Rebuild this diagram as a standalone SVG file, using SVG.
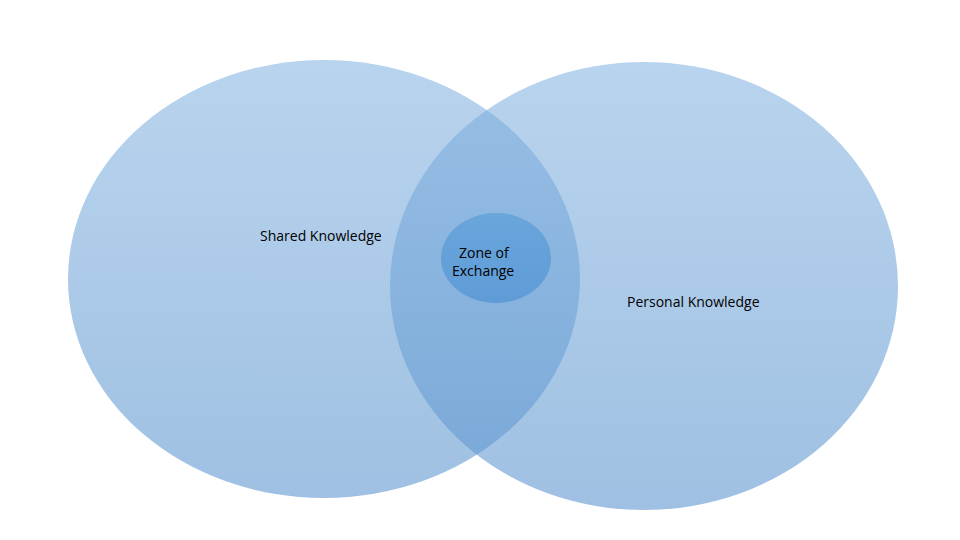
<svg xmlns="http://www.w3.org/2000/svg" width="960" height="540" viewBox="0 0 960 540">
<defs>
<linearGradient id="g" x1="0" y1="0" x2="0" y2="1">
<stop offset="0" stop-color="#7fb0df" stop-opacity="0.55"/>
<stop offset="1" stop-color="#5e96cf" stop-opacity="0.6"/>
</linearGradient>
<linearGradient id="s" x1="0" y1="0" x2="0" y2="1">
<stop offset="0" stop-color="#6aa6dc"/>
<stop offset="1" stop-color="#5f9bd6"/>
</linearGradient>
</defs>
<style>text{font-family:"Open Sans","Liberation Sans",sans-serif;font-size:14px;fill:#000}</style>
<rect width="960" height="540" fill="#fff"/>
<g id="shared"><ellipse cx="324" cy="279" rx="256" ry="219" fill="url(#g)"/><text x="260" y="241">Shared Knowledge</text></g>
<g id="personal"><ellipse cx="644" cy="286" rx="254" ry="224" fill="url(#g)"/><text x="627" y="307">Personal Knowledge</text></g>
<g id="zone"><ellipse cx="496" cy="258" rx="55" ry="45" fill="url(#s)"/><text x="459" y="258">Zone of</text><text x="452" y="276">Exchange</text></g>
<g id="connectors"/>
</svg>
